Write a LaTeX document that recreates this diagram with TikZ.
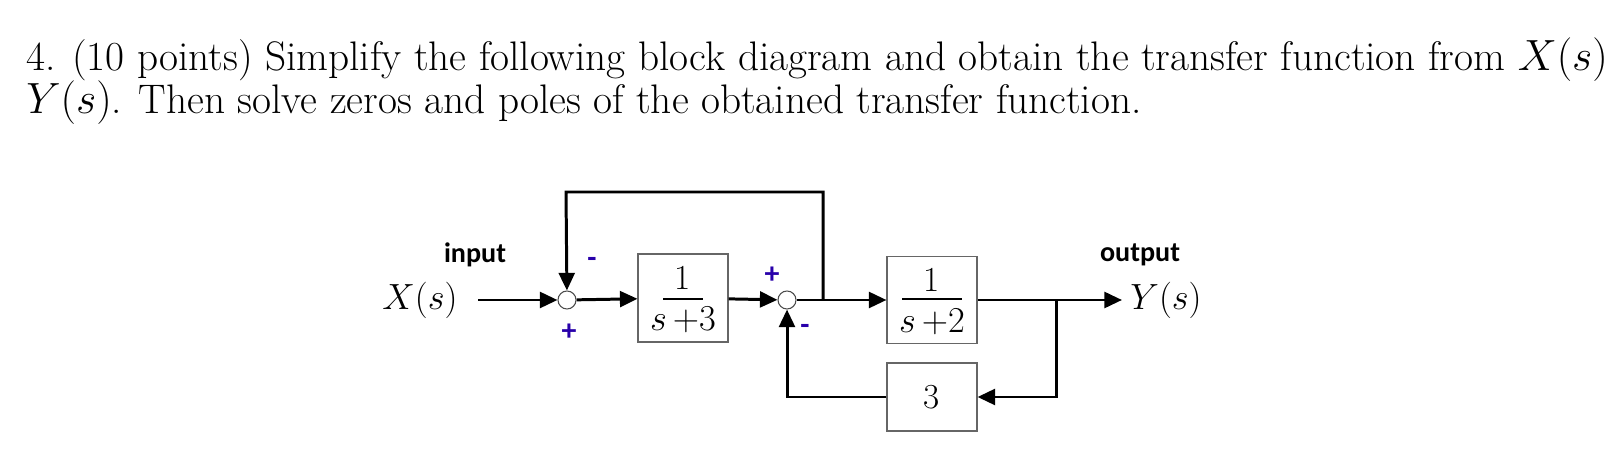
\documentclass[tikz,border=0pt]{standalone}
\usepackage{fontspec}
\newfontfamily\tnr{Liberation Serif}
\newfontfamily\carl{Carlito}
\usetikzlibrary{arrows.meta}
\definecolor{sgn}{RGB}{40,0,170}
\begin{document}
\begin{tikzpicture}[x=0.02cm,y=-0.02cm,
  wire/.style={line width=1.7pt},
  arr/.style={wire,-{Triangle[length=10pt,width=9pt]}},
  blk/.style={draw=black!60,line width=0.6pt,minimum width=90*0.02cm,inner sep=0pt,font=\fontsize{20}{22}\selectfont},
  num/.style={inner sep=0pt,font=\fontsize{20}{22}\selectfont},
  sum/.style={circle,draw=black!70,line width=0.6pt,fill=white,minimum size=18*0.02cm,inner sep=0pt},
  sg/.style={text=sgn,font=\carl\bfseries\fontsize{17}{18}\selectfont,inner sep=0pt},
  lbl/.style={font=\carl\bfseries\fontsize{16}{18}\selectfont,inner sep=0pt},
  io/.style={font=\fontsize{20}{22}\selectfont,inner sep=0pt}]
\useasboundingbox (0,0) rectangle (1618,455);
\node[anchor=base west,inner sep=0pt,font=\fontsize{23.5}{28}\selectfont] (l1) at (26,71) {4. (10 points) Simplify the following block diagram and obtain the transfer function from $X(s)$ to};
\node[anchor=base west,inner sep=0pt,font=\fontsize{23.5}{28}\selectfont] (l2) at (26,114) {$Y(s)$. Then solve zeros and poles of the obtained transfer function.};

\node[io] (X) at (420,300) {$X(s)$};
\node[lbl] (in) at (475,255) {input};
\node[sum] (s1) at (567,300) {};
\node[blk,minimum height=88*0.02cm] (b1) at (683,298) {};
\node[num] (n1) at (683,278) {1};
\node[num] (d1) at (683,320) {$s\,{+}3$};
\draw[line width=0.6pt] (663,299) -- (703,299);
\node[sum] (s2) at (787,300) {};
\node[blk,minimum height=87*0.02cm] (b2) at (932,300) {};
\node[num] (n2) at (932,280) {1};
\node[num] (d2) at (932,322) {$s\,{+}2$};
\draw[line width=0.6pt] (902,299) -- (962,299);
\node[blk,minimum height=68*0.02cm] (b3) at (932,397) {3};
\node[io,anchor=west] (Y) at (1130,300) {$Y(s)$};
\node[lbl] (out) at (1140,255) {output};
\node[sg] (m1) at (592,262) {-};
\node[sg] (p1) at (569,332) {+};
\node[sg] (p2) at (772,275) {+};
\node[sg] (m2) at (805,329) {-};
\coordinate (t) at (823,300);
\coordinate (o) at (1056,300);
\coordinate (xs) at (478,300);

\draw[arr] (xs) -- (s1);
\draw[arr] (s1) -- (b1);
\draw[arr] (b1) -- (s2);
\draw[arr] (s2) -- (b2);
\draw[arr] (b2) -- (1122,300);
\draw[arr] (t) |- (566,192) -- (s1);
\draw[arr] (o) |- (b3);
\draw[arr] (b3) -| (s2);
\end{tikzpicture}
\end{document}
